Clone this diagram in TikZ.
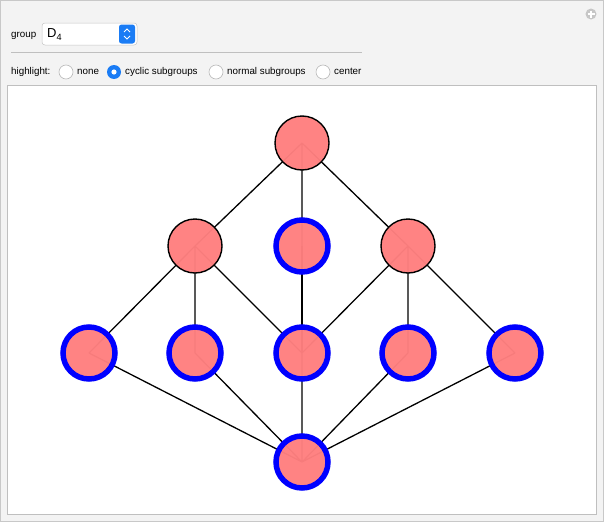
\documentclass[tikz,border=0pt]{standalone}
\usepackage{fontspec}
\setmainfont{Liberation Sans}
\definecolor{panelbg}{HTML}{F3F3F3}
\definecolor{panelline}{HTML}{C8C8C8}
\definecolor{nodefill}{HTML}{FF8080}
\definecolor{hlblue}{HTML}{0000FF}
\definecolor{btnblue}{HTML}{1A7CF5}
\tikzset{
  grp/.style={circle, minimum size=54pt, inner sep=0pt, fill=nodefill, fill opacity=0.97, draw=black, line width=1.4pt, draw opacity=1},
  hl/.style={circle, minimum size=52pt, inner sep=0pt, fill=nodefill, fill opacity=0.97, draw=hlblue, line width=5.5pt, draw opacity=1},
  edge/.style={line width=1.3pt, black},
  radio/.style={circle, minimum size=14pt, inner sep=0pt, draw=gray!55, fill=white, line width=0.6pt},
  lbl/.style={font=\fontsize{9.8}{11}\selectfont, inner sep=0pt, anchor=west},
}
\begin{document}
\begin{tikzpicture}[x=1pt, y=-1pt]
\useasboundingbox (0,0) rectangle (604,522);
\fill[panelbg] (0,0) rectangle (604,522);
\draw[panelline, line width=0.6pt] (0.3,0.3) rectangle (603.7,521.7);
% plus icon
\node[circle, fill=gray!45, minimum size=11pt, inner sep=0pt] (plus) at (591,14) {};
\draw[white, line width=1.3pt] (587.5,14) -- (594.5,14) (591,10.5) -- (591,17.5);
% group control
\node[lbl] (glbl) at (11,35.5) {group};
\draw[gray!45, fill=white, rounded corners=3pt, line width=0.5pt] (42,23) rectangle (137,45);
\node[anchor=west, inner sep=0pt, font=\fontsize{13}{14}\selectfont] (dval) at (47,34.5) {D\textsubscript{4}};
\node[fill=btnblue, rounded corners=2.5pt, minimum width=16pt, minimum height=19pt, inner sep=0pt] (btn) at (127,34) {};
\draw[white, line width=1pt] (124,32) -- (127,29) -- (130,32) (124,36) -- (127,39) -- (130,36);
\draw[gray!50, line width=0.6pt] (11,52) -- (362,52);
% highlight radios
\node[lbl] (hlbl) at (11,71.5) {highlight:};
\node[radio] (r1) at (66,72) {};
\node[lbl] (t1) at (77,71.5) {none};
\node[circle, minimum size=14pt, inner sep=0pt, fill=btnblue] (r2) at (114,72) {};
\fill[white] (r2) circle (2.6pt);
\node[lbl] (t2) at (125,71.5) {cyclic subgroups};
\node[radio] (r3) at (216,72) {};
\node[lbl] (t3) at (227,71.5) {normal subgroups};
\node[radio] (r4) at (323,72) {};
\node[lbl] (t4) at (334,71.5) {center};
% plot area
\draw[fill=white, draw=gray!50, line width=0.6pt] (7,85) rectangle (596,514);
% node positions
\coordinate (c0) at (302,143);
\coordinate (c1) at (195,246);
\coordinate (c2) at (302,246);
\coordinate (c3) at (408,246);
\coordinate (c4) at (89,353);
\coordinate (c5) at (195,353);
\coordinate (c6) at (302,353);
\coordinate (c7) at (408,353);
\coordinate (c8) at (515,353);
\coordinate (c9) at (302,462);
% edges
\draw[edge] (c0) -- (c1) (c0) -- (c2) (c0) -- (c3);
\draw[edge] (c1) -- (c4) (c1) -- (c5) (c1) -- (c6);
\draw[edge] (c2) -- (c6);
\draw[edge] (c3) -- (c6) (c3) -- (c7) (c3) -- (c8);
\draw[edge] (c4) -- (c9) (c5) -- (c9) (c6) -- (c9) (c7) -- (c9) (c8) -- (c9);
% nodes
\node[grp] (n0) at (c0) {};
\node[grp] (n1) at (c1) {};
\node[hl] (n2) at (c2) {};
\node[grp] (n3) at (c3) {};
\node[hl] (n4) at (c4) {};
\node[hl] (n5) at (c5) {};
\node[hl] (n6) at (c6) {};
\node[hl] (n7) at (c7) {};
\node[hl] (n8) at (c8) {};
\node[hl] (n9) at (c9) {};
\end{tikzpicture}
\end{document}
